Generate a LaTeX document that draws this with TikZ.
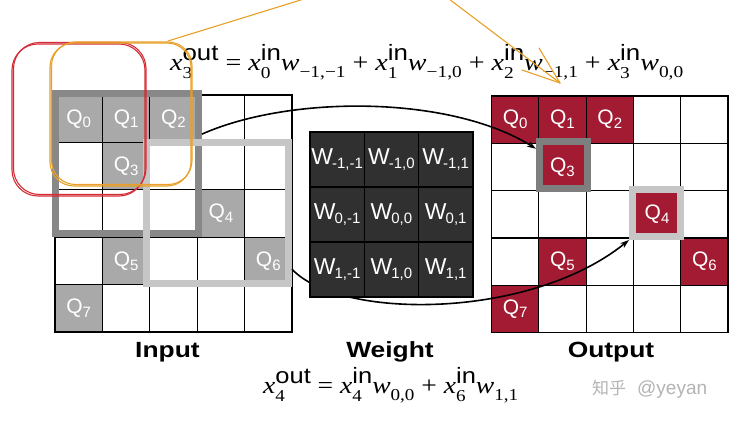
\documentclass[tikz,border=0pt]{standalone}
\usepackage{fontspec}
\setmainfont{Liberation Serif}
\setsansfont{Liberation Sans}
\newfontfamily\lsans{Liberation Sans}
\newfontfamily\lsansw[FakeStretch=1.2]{Liberation Sans}
\newfontfamily\cjk{Noto Sans CJK SC}
\usetikzlibrary{arrows.meta,calc}

\definecolor{qgray}{HTML}{A9A9A9}
\definecolor{cDark}{HTML}{888888}
\definecolor{cLight}{HTML}{C6C6C6}
\definecolor{cDarkO}{HTML}{7E7E7E}
\definecolor{qred}{RGB}{163,27,50}
\definecolor{wfill}{HTML}{303030}
\definecolor{annOr}{RGB}{232,160,40}
\definecolor{annRed}{RGB}{212,45,55}
\definecolor{wmark}{HTML}{B4B4B4}

\newcommand\qlab[1]{{\lsans\fontsize{21}{21}\selectfont Q\raisebox{-0.18em}{\fontsize{15}{15}\selectfont #1}}}
\newcommand\wlab[1]{{\lsans\fontsize{23}{23}\selectfont W\hspace{-1pt}\raisebox{-0.16em}{\fontsize{15}{15}\selectfont #1}}}
\newcommand\fx[2]{\textit{x}\makebox[0pt][l]{\raisebox{-0.32em}{\fontsize{18}{18}\selectfont #1}}\raisebox{0.42em}{\lsans\fontsize{24}{24}\selectfont #2}}
\newcommand\fw[1]{\textit{w}\raisebox{-0.3em}{\fontsize{18}{18}\selectfont #1}}

\tikzset{
  incell/.style={draw=black, line width=1.2pt, minimum width=47.4pt, minimum height=47.4pt, inner sep=0pt, outer sep=0pt},
  outcell/.style={draw=black, line width=1.2pt, minimum width=47.3pt, minimum height=47.3pt, inner sep=0pt, outer sep=0pt},
  gcell/.style={incell, fill=qgray, text=white},
  rcell/.style={outcell, fill=qred, text=white},
  wcell/.style={draw=black, line width=1.2pt, fill=wfill, text=white, minimum width=54.3pt, minimum height=55pt, inner sep=0pt, outer sep=0pt},
  frame/.style={line width=7pt, inner sep=0pt},
  conn/.style={line width=1.6pt, -{Stealth[length=9pt,width=6pt]}},
  lab/.style={font=\lsansw\bfseries\fontsize{22}{22}\selectfont, anchor=base, inner sep=0pt},
  ann/.style={line width=1.1pt, line cap=round, line join=round}
}

\begin{document}
\begin{tikzpicture}[x=1pt,y=-1pt]
\useasboundingbox[fill=white] (0,0) rectangle (744,422);

% ---- Input and output grids
\foreach \r in {0,...,4}{\foreach \c in {0,...,4}{
  \node[incell] (in-\r-\c) at ({55+47.4*(\c+0.5)},{95+47.4*(\r+0.5)}) {};
  \node[outcell] (out-\r-\c) at ({491.5+47.3*(\c+0.5)},{96+47.3*(\r+0.5)}) {};
}}
\foreach \r/\c/\k in {0/0/0,0/1/1,0/2/2,1/1/3,2/3/4,3/1/5,3/4/6,4/0/7}{
  \node[gcell] (iq\k) at (in-\r-\c) {\qlab{\k}};
  \node[rcell] (oq\k) at (out-\r-\c) {\qlab{\k}};
}

% ---- sliding windows
\node[frame, draw=cDark, minimum width=143pt, minimum height=140pt] (dwin) at (127,163.5) {};
\node[frame, draw=cLight, minimum width=142pt, minimum height=141pt] (lwin) at (217.5,213) {};
\node[frame, draw=cDarkO, minimum width=48pt, minimum height=47pt] (oq3f) at (563.5,165) {};
\node[frame, draw=cLight, minimum width=48pt, minimum height=47pt] (oq4f) at (656.5,213) {};

% ---- connectors (behind the weight grid)
\draw[conn] ($(dwin.north east)!0.3!(dwin.south east)$) .. controls (290,95) and (450,95) .. ($(oq3f.north west)!0.2!(oq3f.south west)$);
\draw[conn] ($(lwin.north east)!0.88!(lwin.south east)$) .. controls (340,320) and (530,320) .. (oq4f.south west);

% ---- weight grid
\foreach \r/\rl in {0/-1,1/0,2/1}{\foreach \c/\cl in {0/-1,1/0,2/1}{
  \node[wcell] (w-\r-\c) at ({310+54.3*(\c+0.5)},{132+55*(\r+0.5)}) {\wlab{\rl,\cl}};
}}

% ---- captions
\node[lab] (inlab) at (167.5,357.7) {Input};
\node[lab] (wlab) at (390,357.7) {Weight};
\node[lab] (outlab) at (611,357.7) {Output};

% ---- formulas
\node[inner sep=0pt, anchor=north west] (f1) at (170,44) {\resizebox*{513pt}{36pt}{\fontsize{26}{26}\selectfont
  \fx{3}{out} = \fx{0}{in}\fw{−1,−1} + \fx{1}{in}\fw{−1,0} + \fx{2}{in}\fw{−1,1} + \fx{3}{in}\fw{0,0}}};
\node[inner sep=0pt, anchor=north west] (f2) at (263,367) {\resizebox*{255pt}{36pt}{\fontsize{26}{26}\selectfont
  \fx{4}{out} = \fx{4}{in}\fw{0,0} + \fx{6}{in}\fw{1,1}}};

% ---- watermark
\node[anchor=west, inner sep=0pt, text=wmark] (wm) at (592,389) {{\cjk\fontsize{17}{17}\selectfont 知乎}\hspace{11pt}{\lsans\fontsize{19}{19}\selectfont @yeyan}};

% ---- hand-drawn annotations
\draw[ann, annRed, rounded corners=26pt] (12,44) rectangle (145,196);
\draw[ann, annRed, rounded corners=26pt] (13.5,42.5) rectangle (146,194.5);
\draw[ann, annOr, rounded corners=24pt] (50,43) rectangle (191,186);
\draw[ann, annOr, rounded corners=24pt] (51.5,42) rectangle (192,184.5);
\draw[ann, annOr] (168,41) -- (304,-1);
\draw[ann, annOr] (449,-1) -- (560,83);
\draw[ann, annOr] (560,83) -- (522,70);
\draw[ann, annOr] (560,83) -- (539,48);
\end{tikzpicture}
\end{document}
